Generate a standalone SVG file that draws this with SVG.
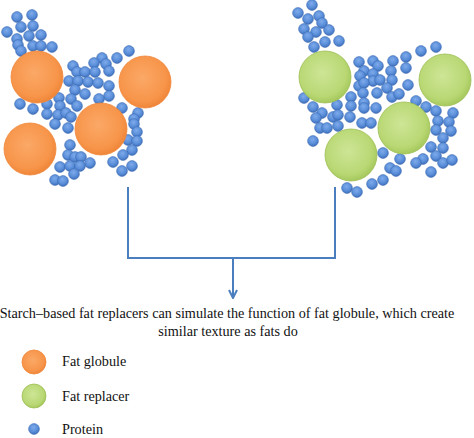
<svg xmlns="http://www.w3.org/2000/svg" xmlns:xlink="http://www.w3.org/1999/xlink" width="474" height="438" viewBox="0 0 474 438">
<defs>
<radialGradient id="gOr" cx="0.45" cy="0.42" r="0.6">
<stop offset="0" stop-color="#FBA867"/><stop offset="0.75" stop-color="#F7954A"/><stop offset="1" stop-color="#EE8436"/>
</radialGradient>
<radialGradient id="gGr" cx="0.45" cy="0.42" r="0.6">
<stop offset="0" stop-color="#CDE596"/><stop offset="0.75" stop-color="#B9D874"/><stop offset="1" stop-color="#A3C65A"/>
</radialGradient>
<radialGradient id="gBl" cx="0.45" cy="0.35" r="0.65">
<stop offset="0" stop-color="#7EAAEA"/><stop offset="0.6" stop-color="#5B8FDA"/><stop offset="1" stop-color="#3F6FBA"/>
</radialGradient>
<circle id="p" r="5.4" fill="url(#gBl)" stroke="#3C6BB3" stroke-width="0.6"/>
<marker id="arr" viewBox="0 0 10 10" refX="9" refY="5" markerWidth="5" markerHeight="5" orient="auto" markerUnits="strokeWidth">
<path d="M1,1 L9,5 L1,9" fill="none" stroke="#4A7EBE" stroke-width="2"/>
</marker>
</defs>
<style>
.fat{fill:url(#gOr);stroke:#F0883C;stroke-width:0.8}
.rep{fill:url(#gGr);stroke:#9DBF55;stroke-width:0.8}
.conn{fill:none;stroke:#4A7EBE;stroke-width:2}
text{font-family:"Liberation Serif","Times New Roman",serif;font-size:14.2px;fill:#111}
</style>

<g id="left-proteins">
<use href="#p" x="17" y="17"/><use href="#p" x="32" y="15"/><use href="#p" x="21" y="27"/><use href="#p" x="33" y="26"/>
<use href="#p" x="7" y="32"/><use href="#p" x="17" y="39"/><use href="#p" x="29" y="36"/><use href="#p" x="41" y="35"/>
<use href="#p" x="18" y="45"/><use href="#p" x="33" y="46"/><use href="#p" x="41" y="46"/><use href="#p" x="52" y="47"/>
<use href="#p" x="21" y="51"/><use href="#p" x="129" y="51"/><use href="#p" x="117" y="58"/><use href="#p" x="102" y="58"/>
<use href="#p" x="94" y="63"/><use href="#p" x="106" y="64"/><use href="#p" x="73" y="66"/><use href="#p" x="77" y="72"/>
<use href="#p" x="85" y="72"/><use href="#p" x="95" y="72"/><use href="#p" x="109" y="71"/><use href="#p" x="69" y="81"/>
<use href="#p" x="78" y="81"/><use href="#p" x="88" y="82"/><use href="#p" x="98" y="83"/><use href="#p" x="109" y="86"/>
<use href="#p" x="75" y="90"/><use href="#p" x="85" y="94"/><use href="#p" x="109" y="96"/><use href="#p" x="59" y="98"/>
<use href="#p" x="71" y="99"/><use href="#p" x="99" y="99"/><use href="#p" x="20" y="104"/><use href="#p" x="47" y="104"/>
<use href="#p" x="60" y="106"/><use href="#p" x="77" y="106"/><use href="#p" x="33" y="109"/><use href="#p" x="122" y="108"/>
<use href="#p" x="138" y="113"/><use href="#p" x="47" y="114"/><use href="#p" x="58" y="115"/><use href="#p" x="66" y="113"/>
<use href="#p" x="71" y="117"/><use href="#p" x="134" y="119"/><use href="#p" x="134" y="124"/><use href="#p" x="55" y="124"/>
<use href="#p" x="68" y="128"/><use href="#p" x="137" y="132"/><use href="#p" x="128" y="140"/><use href="#p" x="137" y="141"/>
<use href="#p" x="70" y="145"/><use href="#p" x="132" y="150"/><use href="#p" x="68" y="155"/><use href="#p" x="75" y="157"/>
<use href="#p" x="81" y="157"/><use href="#p" x="123" y="155"/><use href="#p" x="90" y="163"/><use href="#p" x="60" y="167"/>
<use href="#p" x="70" y="166"/><use href="#p" x="80" y="166"/><use href="#p" x="113" y="162"/><use href="#p" x="132" y="166"/>
<use href="#p" x="122" y="171"/><use href="#p" x="74" y="174"/><use href="#p" x="55" y="180"/><use href="#p" x="63" y="181"/>
</g>
<g id="fat-globule-1"><circle class="fat" cx="37" cy="77" r="26"/></g>
<g id="fat-globule-2"><circle class="fat" cx="145" cy="82" r="26"/></g>
<g id="fat-globule-3"><circle class="fat" cx="30" cy="149" r="26"/></g>
<g id="fat-globule-4"><circle class="fat" cx="101" cy="129" r="26"/></g>

<g id="right-proteins">
<use href="#p" x="312" y="5"/><use href="#p" x="298" y="13"/><use href="#p" x="308" y="19"/><use href="#p" x="319" y="16"/>
<use href="#p" x="322" y="23"/><use href="#p" x="304" y="29"/><use href="#p" x="316" y="32"/><use href="#p" x="329" y="30"/>
<use href="#p" x="308" y="37"/><use href="#p" x="325" y="42"/><use href="#p" x="339" y="41"/><use href="#p" x="314" y="47"/>
<use href="#p" x="421" y="51"/><use href="#p" x="436" y="47"/><use href="#p" x="406" y="57"/><use href="#p" x="393" y="61"/>
<use href="#p" x="359" y="62"/><use href="#p" x="373" y="61"/><use href="#p" x="378" y="66"/><use href="#p" x="406" y="68"/>
<use href="#p" x="364" y="71"/><use href="#p" x="391" y="71"/><use href="#p" x="360" y="76"/><use href="#p" x="373" y="74"/>
<use href="#p" x="373" y="81"/><use href="#p" x="380" y="80"/><use href="#p" x="392" y="80"/><use href="#p" x="359" y="86"/>
<use href="#p" x="364" y="83"/><use href="#p" x="387" y="88"/><use href="#p" x="408" y="85"/><use href="#p" x="363" y="93"/>
<use href="#p" x="377" y="93"/><use href="#p" x="392" y="97"/><use href="#p" x="399" y="94"/><use href="#p" x="351" y="97"/>
<use href="#p" x="304" y="98"/><use href="#p" x="416" y="101"/><use href="#p" x="313" y="107"/><use href="#p" x="337" y="105"/>
<use href="#p" x="351" y="106"/><use href="#p" x="364" y="103"/><use href="#p" x="364" y="108"/><use href="#p" x="376" y="108"/>
<use href="#p" x="322" y="113"/><use href="#p" x="426" y="107"/><use href="#p" x="436" y="111"/><use href="#p" x="453" y="113"/>
<use href="#p" x="316" y="118"/><use href="#p" x="333" y="117"/><use href="#p" x="338" y="115"/><use href="#p" x="350" y="117"/>
<use href="#p" x="362" y="123"/><use href="#p" x="371" y="123"/><use href="#p" x="438" y="121"/><use href="#p" x="449" y="122"/>
<use href="#p" x="338" y="126"/><use href="#p" x="320" y="128"/><use href="#p" x="327" y="128"/><use href="#p" x="436" y="130"/>
<use href="#p" x="451" y="131"/><use href="#p" x="443" y="138"/><use href="#p" x="313" y="141"/><use href="#p" x="431" y="147"/>
<use href="#p" x="443" y="148"/><use href="#p" x="383" y="153"/><use href="#p" x="436" y="156"/><use href="#p" x="400" y="159"/>
<use href="#p" x="423" y="159"/><use href="#p" x="416" y="163"/><use href="#p" x="443" y="163"/><use href="#p" x="452" y="160"/>
<use href="#p" x="390" y="168"/><use href="#p" x="396" y="171"/><use href="#p" x="431" y="172"/><use href="#p" x="383" y="180"/>
<use href="#p" x="372" y="184"/><use href="#p" x="347" y="188"/><use href="#p" x="357" y="192"/>
</g>
<g id="fat-replacer-1"><circle class="rep" cx="325" cy="77" r="26"/></g>
<g id="fat-replacer-2"><circle class="rep" cx="445" cy="80" r="26"/></g>
<g id="fat-replacer-3"><circle class="rep" cx="404" cy="128" r="26"/></g>
<g id="fat-replacer-4"><circle class="rep" cx="351" cy="155" r="26"/></g>

<g id="connectors">
<polyline class="conn" points="128,187 128,258 335,258 335,187"/>
<line class="conn" x1="233" y1="258" x2="233" y2="298" marker-end="url(#arr)"/>
</g>

<g id="caption">
<text x="227" y="318" text-anchor="middle">Starch–based fat replacers can simulate the function of fat globule, which create</text>
<text x="228" y="336" text-anchor="middle">similar texture as fats do</text>
</g>

<g id="legend-fat-globule">
<circle class="fat" cx="34" cy="362" r="12"/>
<text x="62" y="366">Fat globule</text>
</g>
<g id="legend-fat-replacer">
<circle class="rep" cx="34" cy="396" r="12"/>
<text x="62" y="401">Fat replacer</text>
</g>
<g id="legend-protein">
<use href="#p" x="34" y="429"/>
<text x="62" y="434">Protein</text>
</g>
</svg>
